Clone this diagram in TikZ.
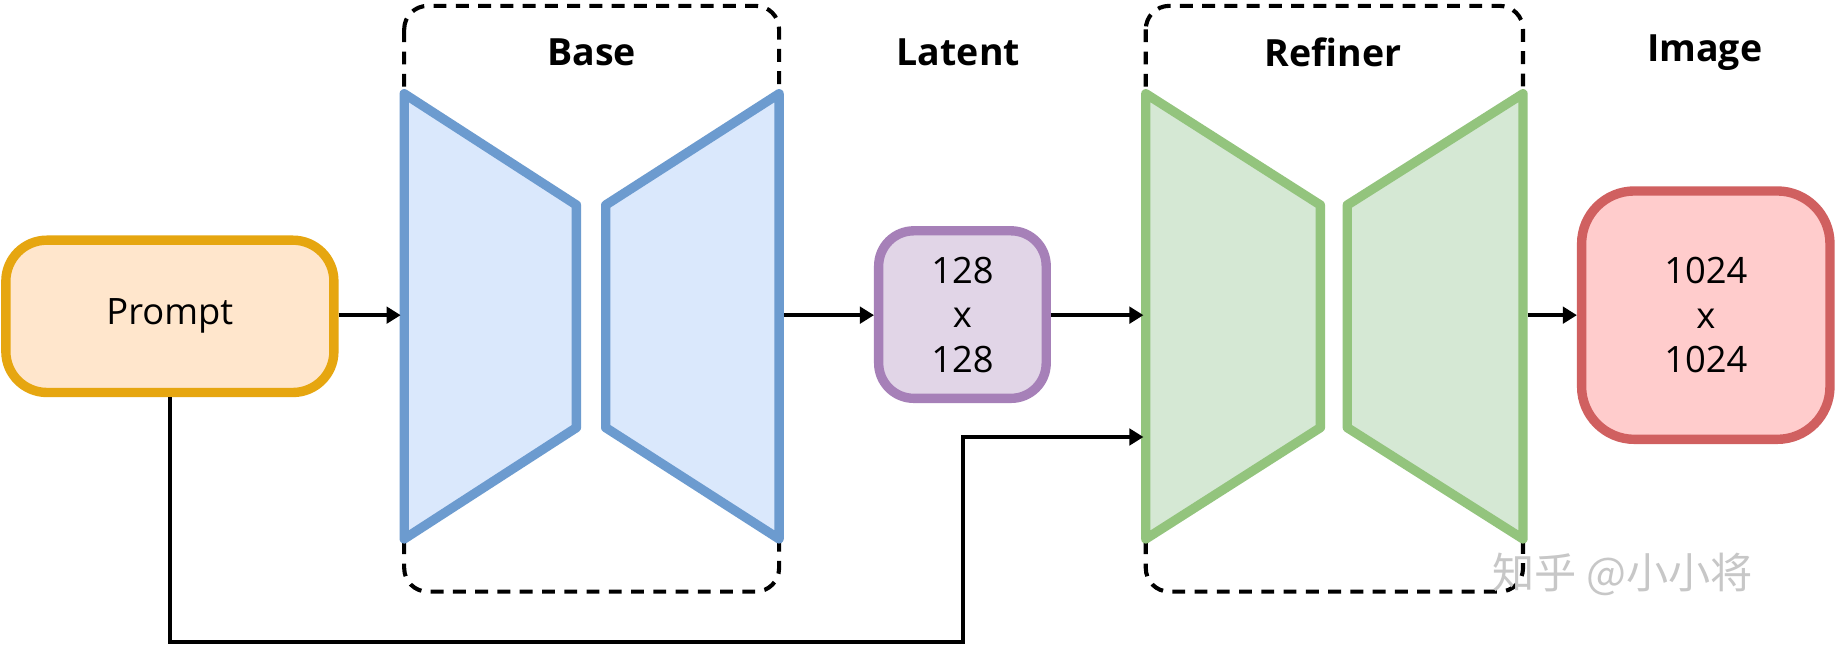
\documentclass[tikz,border=0pt]{standalone}
\usepackage{fontspec}
\setmainfont{Open Sans}
\newfontfamily\cjk{Noto Sans CJK SC}
\usetikzlibrary{arrows.meta}
\definecolor{orS}{HTML}{E6A610}\definecolor{orF}{HTML}{FFE6CC}
\definecolor{blS}{HTML}{6C9BCF}\definecolor{blF}{HTML}{DAE8FC}
\definecolor{puS}{HTML}{A680B8}\definecolor{puF}{HTML}{E1D5E7}
\definecolor{grS}{HTML}{93C47D}\definecolor{grF}{HTML}{D5E8D4}
\definecolor{reS}{HTML}{D06060}\definecolor{reF}{HTML}{FFCCCC}
\tikzset{
 box/.style={draw,line width=8pt,minimum width=#1,inner sep=0pt,align=center,font=\fontsize{31}{42}\selectfont},
 trap/.style={line width=8pt,line join=round},
 grp/.style={draw,line width=3.5pt,dash pattern=on 11pt off 8pt,rounded corners=20pt},
 lab/.style={font=\bfseries\fontsize{32}{40}\selectfont},
 arr/.style={line width=4pt,-{Triangle[length=12pt,width=14pt]}}
}
\begin{document}
\begin{tikzpicture}[x=1pt,y=-1pt]
\useasboundingbox[fill=white] (0,0) rectangle (1568,552);
% groups
\draw[grp] (345,5) rectangle (665,505);
\draw[grp] (978,5) rectangle (1300,505);
\node[lab] (lb) at (505,45) {Base};
\node[lab] (ll) at (818,45) {Latent};
\node[lab] (lr) at (1138,45) {Refiner};
\node[lab] (li) at (1455,45) {Image};
% unets
\draw[trap,draw=blS,fill=blF] (345,80) -- (492,175) -- (492,365) -- (345,460) -- cycle;
\draw[trap,draw=blS,fill=blF] (517,175) -- (665,80) -- (665,460) -- (517,365) -- cycle;
\draw[trap,draw=grS,fill=grF] (978,80) -- (1127,175) -- (1127,365) -- (978,460) -- cycle;
\draw[trap,draw=grS,fill=grF] (1150,175) -- (1300,80) -- (1300,460) -- (1150,365) -- cycle;
\coordinate (bin) at (342,269);
\coordinate (bout) at (669,269);
\coordinate (rin) at (976,269);
\coordinate (rin2) at (976,373);
\coordinate (rout) at (1304,269);
% boxes
\node[box=280pt,minimum height=130pt,rounded corners=35pt,draw=orS,fill=orF] (prompt) at (145,270) {Prompt};
\node[box=143pt,minimum height=143pt,rounded corners=30pt,draw=puS,fill=puF] (lat) at (821.5,268.5) {128\\[-4pt]x\\[-4pt]128};
\node[box=212pt,minimum height=212pt,rounded corners=45pt,draw=reS,fill=reF] (img) at (1456,269) {1024\\[-4pt]x\\[-4pt]1024};
% arrows
\draw[arr] (prompt.east|-bin) -- (bin);
\draw[arr] (bout) -- (lat.west|-bout);
\draw[arr] (lat.east|-rin) -- (rin);
\draw[arr] (rout) -- (img.west|-rout);
\draw[arr] (prompt.south) -- (145,548) -- (822,548) -- (822,373) -- (rin2);
\node[text=black!22,font=\cjk\fontsize{36}{40}\selectfont] (wm) at (1385,490) {知乎 @小小将};
\end{tikzpicture}
\end{document}
